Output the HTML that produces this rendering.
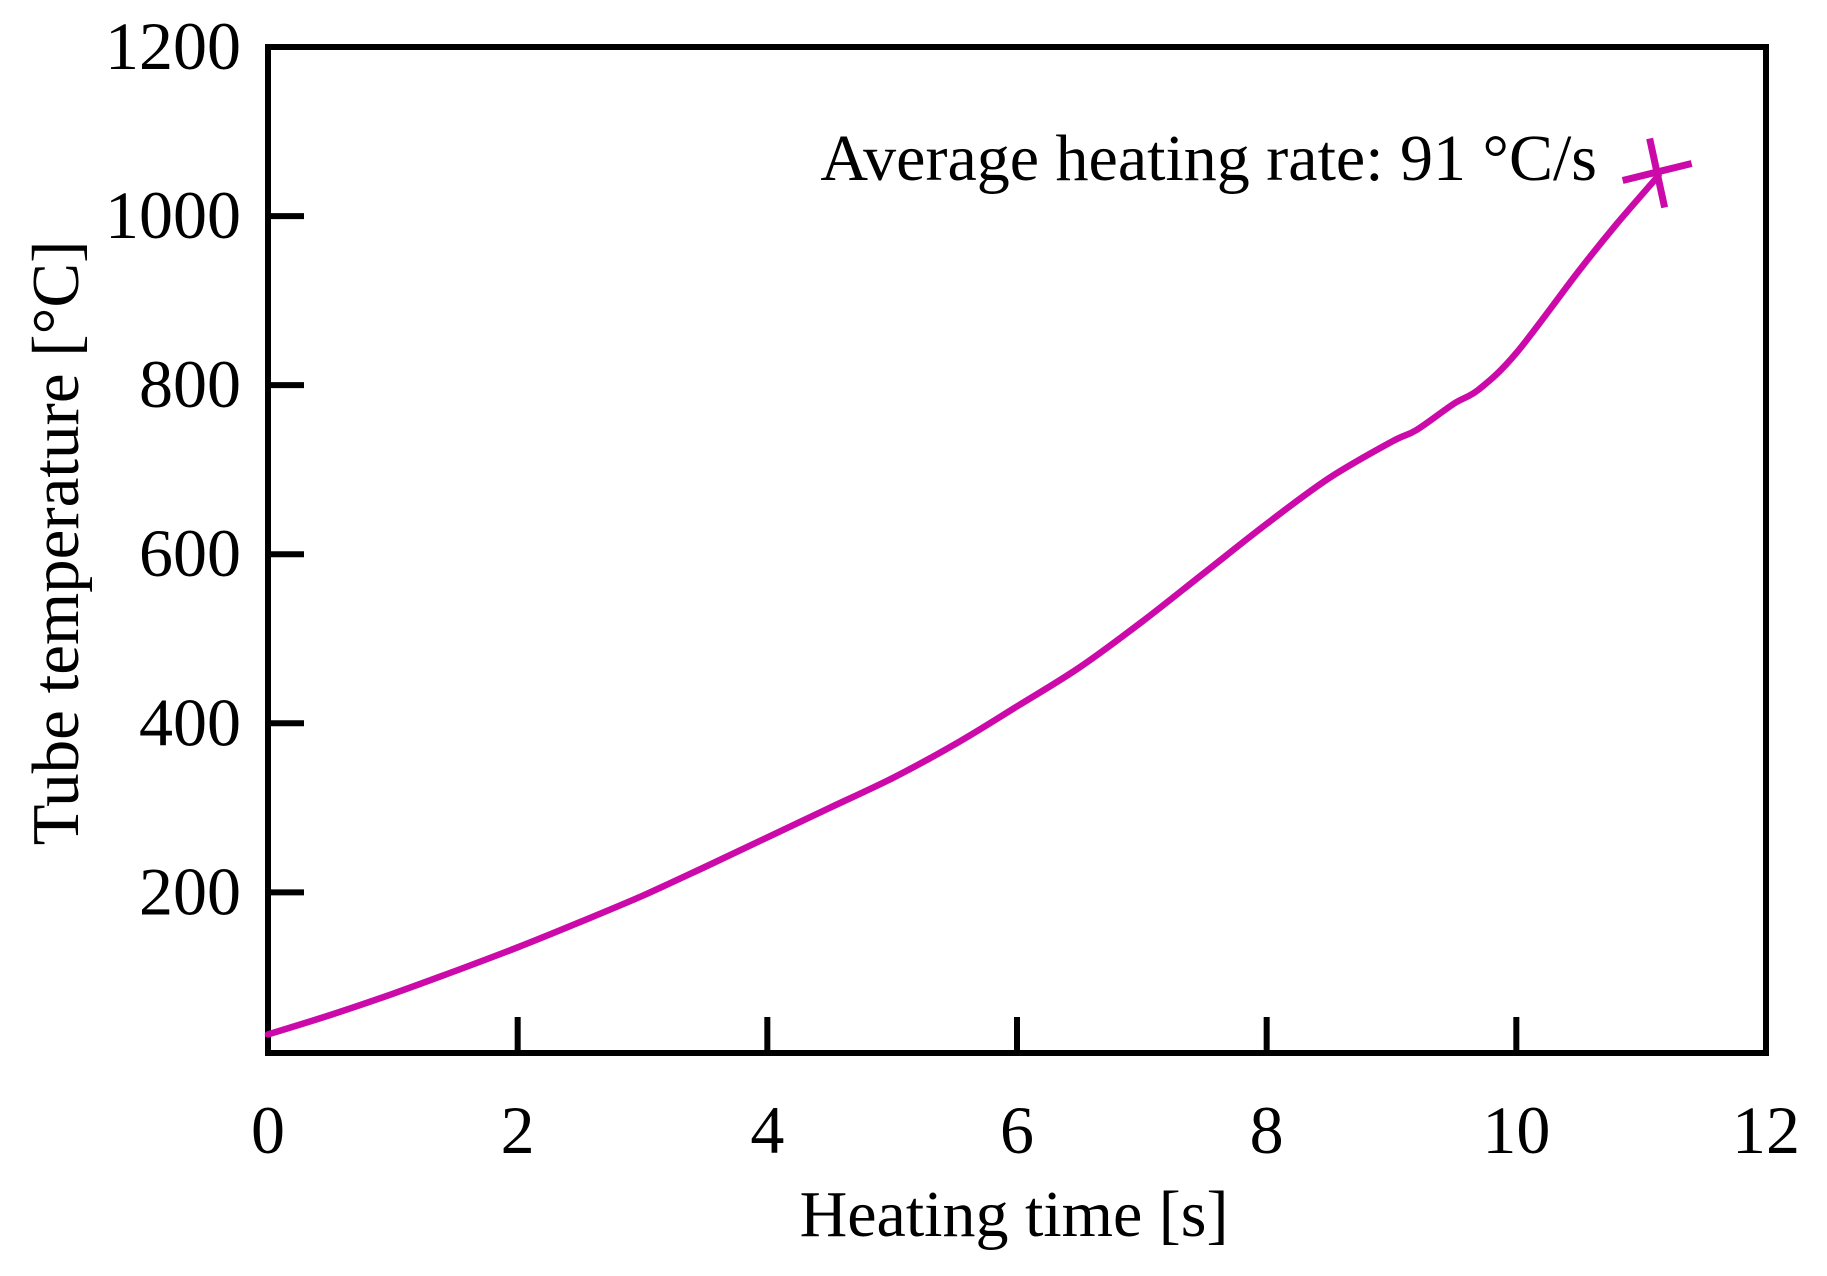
<!DOCTYPE html>
<html><head><meta charset="utf-8"><style>
html,body{margin:0;padding:0;background:#fff;}
svg{display:block;}
text{font-family:"Liberation Serif",serif;fill:#000;}
</style></head><body>
<svg id="chart" width="1827" height="1276" viewBox="0 0 1827 1276" xmlns="http://www.w3.org/2000/svg">
<g id="axes"></g>
<g id="series"></g>
<text x="1597" y="180" font-size="66" text-anchor="end">Average heating rate: 91 °C/s</text>
<text x="1014" y="1236" font-size="66" text-anchor="middle">Heating time [s]</text>
<text transform="translate(78,543) rotate(-90)" font-size="67" text-anchor="middle">Tube temperature [°C]</text>
</svg>
<script>
const xTicks = [0, 2, 4, 6, 8, 10, 12];
const yTicks = [200, 400, 600, 800, 1000, 1200];
const times = [0, 0.5, 1, 1.5, 2, 2.5, 3, 3.5, 4, 4.5, 5, 5.5, 6, 6.5, 7, 7.5, 8, 8.5, 9, 9.2, 9.5, 9.7, 10, 10.5, 10.8, 11.14];
const temps = [32, 55, 80, 107, 135, 165, 196, 230, 265, 300, 335, 375, 420, 466, 520, 578, 636, 690, 733, 747, 778, 795, 838, 935, 990, 1048];
const endPoint = [11.14, 1048];

const L=268,R=1766,T=47,B=1053;
const xMin=0,xMax=12,yMin=10,yMax=1200;
function sx(v){return L+(v-xMin)/(xMax-xMin)*(R-L);}
function sy(v){return B-(v-yMin)/(yMax-yMin)*(B-T);}
const NS="http://www.w3.org/2000/svg";
const axes=document.getElementById('axes'), series=document.getElementById('series');
function mk(tag,attrs,parent){const e=document.createElementNS(NS,tag);for(const k in attrs)e.setAttribute(k,attrs[k]);parent.appendChild(e);return e;}

const frame=mk('rect',{x:L,y:T,width:R-L,height:B-T,fill:'none',stroke:'#000','stroke-width':6},axes);



xTicks.forEach(v=>{
  const x=sx(v);
  if(v>xMin&&v<xMax){
    const t=mk('line',{x1:x,x2:x,y1:B,y2:B-36,stroke:'#000','stroke-width':6},axes);
    
    
  }
  const lb=mk('text',{x:x,y:1153,'font-size':68,'text-anchor':'middle'},axes);
  lb.textContent=v;
  
  
});
yTicks.forEach(v=>{
  const y=sy(v);
  if(v<yMax){
    const t=mk('line',{x1:L,x2:L+36,y1:y,y2:y,stroke:'#000','stroke-width':6},axes);
    
    
  }
  const lb=mk('text',{x:241,y:y+22,'font-size':68,'text-anchor':'end'},axes);
  lb.textContent=v;
  
  
});

// smooth path (Catmull-Rom) through data points
const P=times.map((t,i)=>[sx(t),sy(temps[i])]);
let d='M'+P[0][0].toFixed(1)+','+P[0][1].toFixed(1);
for(let i=0;i<P.length-1;i++){
  const p0=P[Math.max(0,i-1)],p1=P[i],p2=P[i+1],p3=P[Math.min(P.length-1,i+2)];
  const c1=[p1[0]+(p2[0]-p0[0])/6,p1[1]+(p2[1]-p0[1])/6];
  const c2=[p2[0]-(p3[0]-p1[0])/6,p2[1]-(p3[1]-p1[1])/6];
  d+='C'+c1[0].toFixed(1)+','+c1[1].toFixed(1)+' '+c2[0].toFixed(1)+','+c2[1].toFixed(1)+' '+p2[0].toFixed(1)+','+p2[1].toFixed(1);
}
const line=mk('path',{d:d,fill:'none',stroke:'#cc0aaa','stroke-width':6.5,'stroke-linejoin':'round','stroke-linecap':'round'},series);



const cx=sx(endPoint[0]), cy=sy(endPoint[1]);
const m=mk('path',{d:`M${cx-36},${cy+5}L${cx+33},${cy-12}M${cx-9},${cy-37}L${cx+6},${cy+32}`,stroke:'#cc0aaa','stroke-width':7,fill:'none'},series);


</script>
</body></html>
